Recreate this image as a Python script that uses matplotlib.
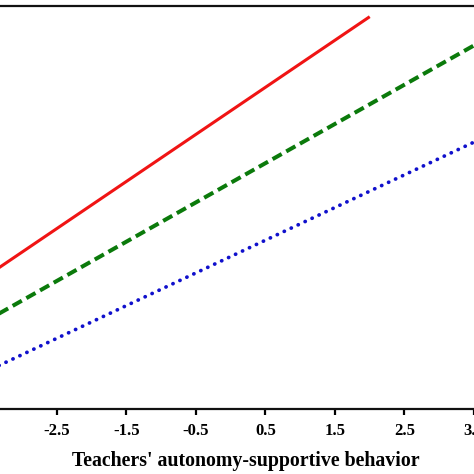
import matplotlib
matplotlib.use("Agg")
import matplotlib.pyplot as plt

# Data (moderator levels: high / mean / low)
x_red = [-3.5, 2.0]
y_red = [2.323, 4.891]
x_green = [-3.5, 3.5]
y_green = [1.881, 4.606]
x_blue = [-3.5, 3.5]
y_blue = [1.377, 3.647]
xticks = [-2.5, -1.5, -0.5, 0.5, 1.5, 2.5, 3.5]
xticklabels = ["-2.5", "-1.5", "-0.5", "0.5", "1.5", "2.5", "3.5"]
xlabel = "Teachers' autonomy-supportive behavior"

fig = plt.figure(figsize=(4.74, 4.74), dpi=100)
ax = fig.add_axes([0.0, 65 / 474, 1.0, (409 - 5.7) / 474])

ax.plot(x_red, y_red, color="#f01414", lw=2.2, solid_capstyle="butt")
ax.plot(x_green, y_green, color="#0b7a0b", lw=2.9, linestyle=(0, (2.6, 1.3)))
ax.plot(x_blue, y_blue, color="#1010cc", lw=2.7, linestyle=(0, (0.05, 2.0)),
        dash_capstyle="round")

ax.set_xlim(-3.318, 3.434)
ax.set_ylim(1.0, 5.0)

for s in ["left", "right"]:
    ax.spines[s].set_visible(False)
for s in ["top", "bottom"]:
    ax.spines[s].set_linewidth(1.6)
    ax.spines[s].set_color("#111111")

ax.set_yticks([])
ax.set_xticks(xticks)
ax.set_xticklabels(xticklabels, fontfamily="Liberation Serif", fontweight="bold",
                   fontsize=12)
ax.tick_params(axis="x", direction="out", length=4, width=1.6, pad=6)
ax.set_xlabel(xlabel, fontfamily="Liberation Serif", fontweight="bold",
              fontsize=14.3, labelpad=8.5)
ax.xaxis.label.set_x(0.519)

fig.savefig("out.png", dpi=100)
